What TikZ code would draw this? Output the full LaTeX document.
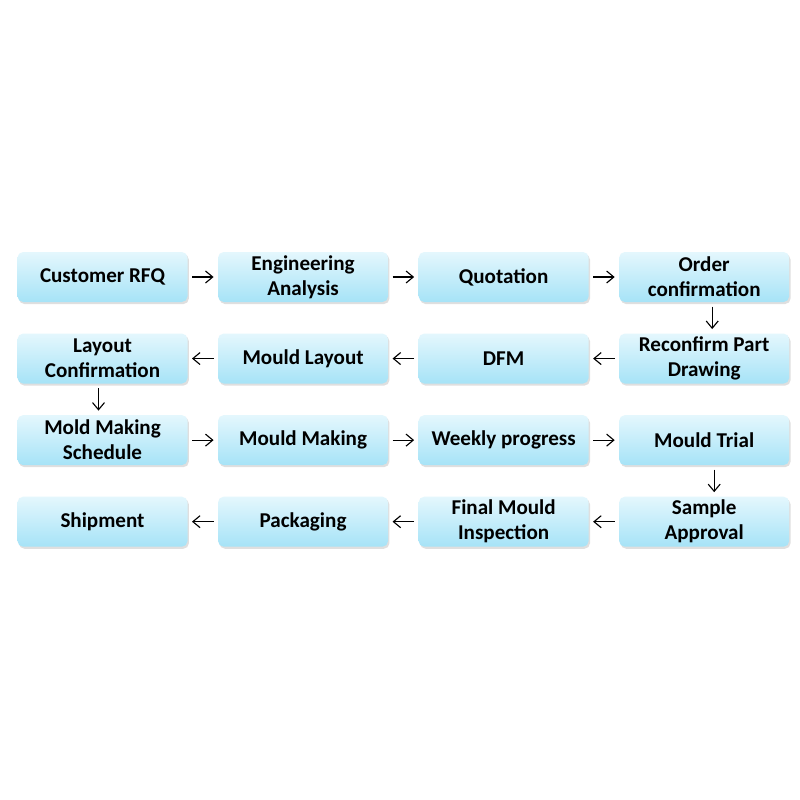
\documentclass[tikz,border=0pt]{standalone}
\usepackage{fontspec}
\setmainfont{Carlito}
\usepackage{xcolor}
\usetikzlibrary{arrows.meta,positioning,shadows}
\definecolor{boxtop}{HTML}{E4F7FD}
\definecolor{boxbot}{HTML}{A6E3F7}
\tikzset{
  stepbox/.style={rounded corners=4pt,top color=boxtop,bottom color=boxbot,draw=none,
    drop shadow={shadow xshift=1pt,shadow yshift=-1.5pt,opacity=0.25},
    align=center,minimum width=4.25cm,minimum height=1.25cm,inner ysep=1pt,
    font=\fontsize{15}{17.8}\selectfont\bfseries},
  arrow/.style={-{Straight Barb[length=1.8mm,width=3mm]},line width=0.8pt,draw=black,shorten <=3pt,shorten >=3pt}
}

\begin{document}
\begin{tikzpicture}[node distance=0.775cm and 0.75cm]
  \useasboundingbox[fill=white] (0,0) rectangle (20,-20);

  % row 1
  \node (rfq) [stepbox] at (2.5625,-6.925) {Customer RFQ};
  \node (eng) [stepbox,right=of rfq] {Engineering\\Analysis};
  \node (quote) [stepbox,right=of eng] {Quotation};
  \node (order) [stepbox,right=of quote] {Order\\confirmation};
  % row 2
  \node (recon) [stepbox,below=of order] {Reconfirm Part\\Drawing};
  \node (dfm) [stepbox,left=of recon] {DFM};
  \node (mlayout) [stepbox,left=of dfm] {Mould Layout};
  \node (lconf) [stepbox,left=of mlayout] {Layout\\Confirmation};
  % row 3
  \node (sched) [stepbox,below=of lconf] {Mold Making\\Schedule};
  \node (making) [stepbox,right=of sched] {Mould Making};
  \node (weekly) [stepbox,right=of making] {Weekly progress};
  \node (trial) [stepbox,right=of weekly] {Mould Trial};
  % row 4
  \node (sample) [stepbox,below=of trial] {Sample\\Approval};
  \node (inspect) [stepbox,left=of sample] {Final Mould\\Inspection};
  \node (pack) [stepbox,left=of inspect] {Packaging};
  \node (ship) [stepbox,left=of pack] {Shipment};

  \draw[arrow] (rfq) -- (eng);
  \draw[arrow] (eng) -- (quote);
  \draw[arrow] (quote) -- (order);
  \draw[arrow] ([xshift=2mm]order.south) -- ([xshift=2mm]recon.north);
  \draw[arrow] (recon) -- (dfm);
  \draw[arrow] (dfm) -- (mlayout);
  \draw[arrow] (mlayout) -- (lconf);
  \draw[arrow] ([xshift=-1mm]lconf.south) -- ([xshift=-1mm]sched.north);
  \draw[arrow] (sched) -- (making);
  \draw[arrow] (making) -- (weekly);
  \draw[arrow] (weekly) -- (trial);
  \draw[arrow] ([xshift=2.5mm]trial.south) -- ([xshift=2.5mm]sample.north);
  \draw[arrow] (sample) -- (inspect);
  \draw[arrow] (inspect) -- (pack);
  \draw[arrow] (pack) -- (ship);
\end{tikzpicture}
\end{document}
